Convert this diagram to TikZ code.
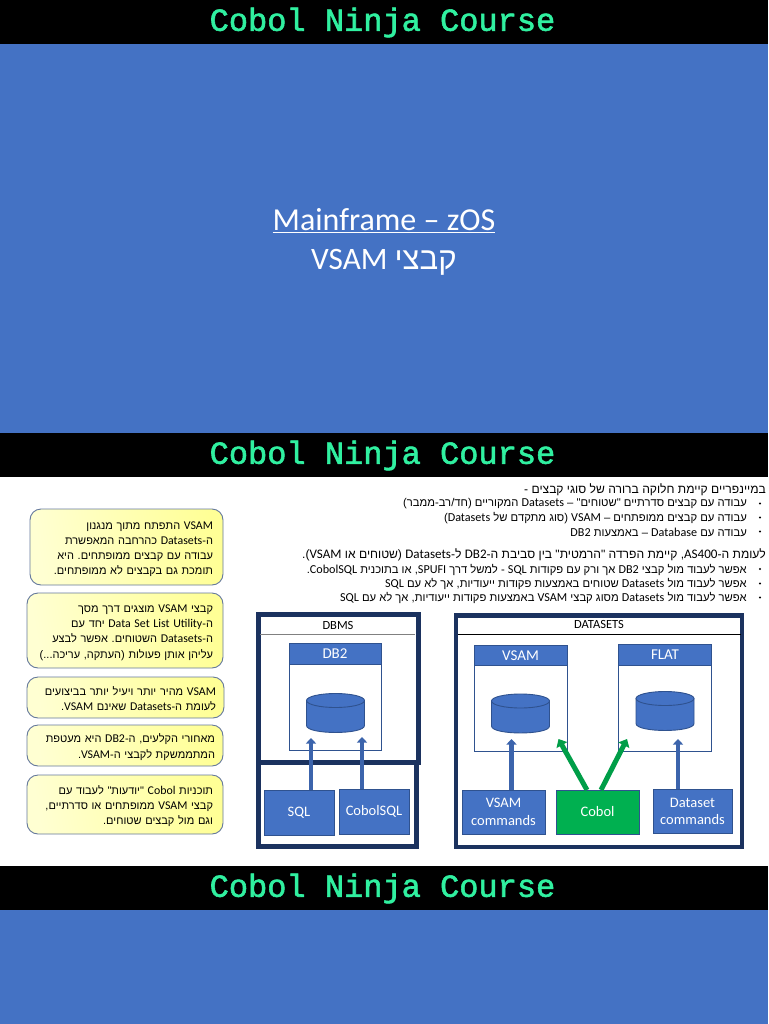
\documentclass[tikz,border=0pt]{standalone}
\usepackage{fontspec}
\usetikzlibrary{arrows.meta}
\setmainfont{Carlito}
\newfontfamily\he[Script=Hebrew]{Liberation Sans}
\newfontfamily\ttl[FakeBold=1.8]{Liberation Mono}
\TeXXeTstate=1
\frenchspacing
\newcommand\ltr[1]{\beginL{\rmfamily\addfontfeature{Scale=1.08}#1}\endL}
\newcommand\rl[1]{\mbox{\he\frenchspacing\beginR #1\endR}}
\definecolor{blu}{HTML}{4472C4}
\definecolor{bluedge}{HTML}{2F528F}
\definecolor{navy}{HTML}{1B325F}
\definecolor{titlegreen}{HTML}{30F0A0}
\definecolor{grn}{HTML}{00B050}
\definecolor{noteedge}{HTML}{64789C}
\definecolor{noteL}{HTML}{FFFFD2}
\definecolor{noteR}{HTML}{FFFF96}
\newcommand\dbcyl[2]{%
  \begin{scope}[shift={(#1,#2)}]
    \path[draw=bluedge,line width=.9,fill=blu] (-29,-12.5) -- (-29,12.5) .. controls (-29,21.8) and (29,21.8) .. (29,12.5) -- (29,-12.5) -- cycle;
    \path[draw=bluedge,line width=.9,fill=blu] (0,-12.5) ellipse [x radius=29,y radius=7];
  \end{scope}}
\tikzset{
  titlebar/.style={fill=black,draw=none},
  titletext/.style={font=\ttl\fontsize{32}{32}\selectfont,text=titlegreen,inner sep=0},
  note/.style={rounded corners=11,draw=noteedge,line width=.9,left color=noteL,right color=noteR,shading angle=100,
    inner xsep=10,inner ysep=0,align=right,font=\he\fontsize{11}{15.2}\selectfont,execute at begin node={\rule{0pt}{12pt}}},
  txtline/.style={anchor=east,inner sep=0,font=\he\fontsize{11.25}{14}\selectfont},
  headline/.style={txtline,font=\he\fontsize{12.1}{14}\selectfont},
  bul/.style={circle,fill=black,inner sep=0,minimum size=2.2},
  frame/.style={draw=navy,line width=5,fill=white,inner sep=0},
  panel/.style={draw=bluedge,line width=.9,fill=white,inner sep=0},
  hdr/.style={draw=bluedge,line width=.7,fill=blu,text=white,inner sep=0,font=\fontsize{15}{15}\selectfont},
  cmd/.style={draw=bluedge,line width=.8,fill=blu,text=white,inner sep=0,align=center,font=\fontsize{14.5}{17.5}\selectfont},
  cmdg/.style={cmd,fill=grn,draw=bluedge},
  flow/.style={draw=blu!88!black,line width=4.5,-{Triangle[length=5.5,width=10]}},
  flowg/.style={draw=grn!90!black,line width=5,-{Triangle[length=7,width=12]}},
  captext/.style={inner sep=0,font=\fontsize{12.5}{12.5}\selectfont},
}
\begin{document}
\begin{tikzpicture}[x=1pt,y=-1pt]
\useasboundingbox (0,0) rectangle (768,1024);
\fill[white] (0,0) rectangle (768,1024);
% slide bands
\fill[blu] (0,44) rectangle (768,433);
\fill[blu] (0,910) rectangle (768,1024);
\fill[titlebar] (0,0) rectangle (768,44);
\fill[titlebar] (0,433) rectangle (768,477);
\fill[titlebar] (0,866) rectangle (768,910);
\node[titletext] (t1) at (382.5,22.5) {Cobol Ninja Course};
\node[titletext] (t2) at (382.5,455.5) {Cobol Ninja Course};
\node[titletext] (t3) at (382.5,888.5) {Cobol Ninja Course};
% first slide
\node[inner sep=0,text=white,font=\fontsize{32}{32}\selectfont] (s1) at (384,221) {\underline{Mainframe – zOS}};
\node[inner sep=0,text=white,font=\fontsize{31.2}{32}\selectfont] (s2) at (384,262) {\beginR{\he קבצי} \beginL VSAM\endL\endR};
% notes
\node[note,text width=173,minimum height=76] (n1) at (126.5,547) {
\rl{\ltr{VSAM} התפתח מתוך מנגנון}\\
\rl{ה-\ltr{Datasets} כהרחבה המאפשרת}\\
\rl{עבודה עם קבצים ממופתחים. היא}\\
\rl{תומכת גם בקבצים לא ממופתחים.}};
\node[note,text width=176,minimum height=75] (n2) at (125,630.5) {
\rl{קבצי \ltr{VSAM} מוצגים דרך מסך}\\
\rl{ה-\ltr{Data Set List Utility} יחד עם}\\
\rl{ה-\ltr{Datasets} השטוחים. אפשר לבצע}\\
\rl{עליהן אותן פעולות (העתקה, עריכה...)}};
\node[note,text width=181,minimum height=41,inner xsep=8] (n3) at (125.5,697.5) {
\rl{\ltr{VSAM} מהיר יותר ויעיל יותר בביצועים}\\
\rl{לעומת ה-\ltr{Datasets} שאינם \ltr{VSAM}.}};
\node[note,text width=180,minimum height=41,inner xsep=8] (n4) at (125,745.5) {
\rl{מאחורי הקלעים, ה-\ltr{DB2} היא מעטפת}\\
\rl{המתממשקת לקבצי ה-\ltr{VSAM}.}};
\node[note,text width=176,minimum height=59] (n5) at (125,804.5) {
\rl{תוכניות \ltr{Cobol} "יודעות" לעבוד עם}\\
\rl{קבצי \ltr{VSAM} ממופתחים או סדרתיים,}\\
\rl{וגם מול קבצים שטוחים.}};
% top text
\node[headline] (l1) at (766,489.5) {\rl{במיינפריים קיימת חלוקה ברורה של סוגי קבצים -}};
\node[txtline] (l2) at (747,504) {\rl{עבודה עם קבצים סדרתיים "שטוחים" – \ltr{Datasets} המקוריים (חד/רב-ממבר)}};
\node[txtline] (l3) at (747,518) {\rl{עבודה עם קבצים ממופתחים – \ltr{VSAM} (סוג מתקדם של \ltr{Datasets})}};
\node[txtline] (l4) at (747,532) {\rl{עבודה עם \ltr{Database} – באמצעות \ltr{DB2}}};
\node[headline] (l5) at (766,555) {\rl{לעומת ה-\ltr{AS400}, קיימת הפרדה "הרמטית" בין סביבת ה-\ltr{DB2} ל-\ltr{Datasets} (שטוחים או \ltr{VSAM}).}};
\node[txtline] (l6) at (747,569.5) {\rl{אפשר לעבוד מול קבצי \ltr{DB2} אך ורק עם פקודות \ltr{SQL} - למשל דרך \ltr{SPUFI}, או בתוכנית \ltr{CobolSQL}.}};
\node[txtline] (l7) at (747,584) {\rl{אפשר לעבוד מול \ltr{Datasets} שטוחים באמצעות פקודות ייעודיות, אך לא עם \ltr{SQL}}};
\node[txtline] (l8) at (747,598) {\rl{אפשר לעבוד מול \ltr{Datasets} מסוג קבצי \ltr{VSAM} באמצעות פקודות ייעודיות, אך לא עם \ltr{SQL}}};
\foreach \yy/\nm in {503.5/b2,517.5/b3,531.5/b4,569/b6,583.5/b7,597.5/b8}
  \node[bul] (\nm) at (760,\yy) {};
% frames
\node[frame,minimum width=160,minimum height=148] (dbms) at (338,688.5) {};
\node[frame,minimum width=158,minimum height=83.5] (lower) at (337.5,804.3) {};
\node[frame,line width=4.5,minimum width=286,minimum height=231.5] (data) at (599,731.2) {};
\node[captext] (dbmscap) at (338,625) {DBMS};
\node[captext] (datacap) at (599,624.5) {DATASETS};
\coordinate (dh1) at (260,634.5);
\coordinate (dh2) at (415,634.5);
\coordinate (dh3) at (458,634.5);
\coordinate (dh4) at (741,634.5);
\draw[gray,line width=.7] (dh1) -- (dh2);
\draw[black,line width=.7] (dh3) -- (dh4);
% panels
\node[panel,minimum width=92,minimum height=107] (db2p) at (335,696.5) {};
\node[hdr,minimum width=92,minimum height=21.5] (db2h) at (335,653.8) {DB2};
\node[panel,minimum width=93,minimum height=106] (vsamp) at (520.5,698) {};
\node[hdr,minimum width=93,minimum height=20.5] (vsamh) at (520.5,655.3) {VSAM};
\node[panel,minimum width=93,minimum height=107] (flatp) at (664.5,697.5) {};
\node[hdr,minimum width=93,minimum height=21] (flath) at (665,654.5) {FLAT};
\dbcyl{335.5}{713}
\dbcyl{520.5}{713.5}
\dbcyl{665}{711}
% command boxes
\node[cmd,minimum width=70,minimum height=45] (sql) at (299,812.5) {SQL};
\node[cmd,minimum width=70,minimum height=45] (csql) at (374,811.5) {CobolSQL};
\node[cmd,minimum width=83,minimum height=44] (vcmd) at (503.5,812) {VSAM\\commands};
\node[cmdg,minimum width=83,minimum height=44] (cob) at (597.5,812) {Cobol};
\node[cmd,minimum width=79,minimum height=44] (dcmd) at (692.5,811.5) {Dataset\\commands};
% arrows
\coordinate (a1s) at (311,790); \coordinate (a1e) at (311,738);
\coordinate (a2s) at (362,789); \coordinate (a2e) at (362,737);
\coordinate (a3s) at (511.5,790); \coordinate (a3e) at (511.5,739);
\coordinate (a4s) at (678,789); \coordinate (a4e) at (678,739);
\coordinate (g1s) at (587,790); \coordinate (g1e) at (558.5,739);
\coordinate (g2s) at (601,790); \coordinate (g2e) at (627,739);
\draw[flow] (a1s) -- (a1e);
\draw[flow] (a2s) -- (a2e);
\draw[flow] (a3s) -- (a3e);
\draw[flow] (a4s) -- (a4e);
\draw[flowg] (g1s) -- (g1e);
\draw[flowg] (g2s) -- (g2e);
\end{tikzpicture}
\end{document}
